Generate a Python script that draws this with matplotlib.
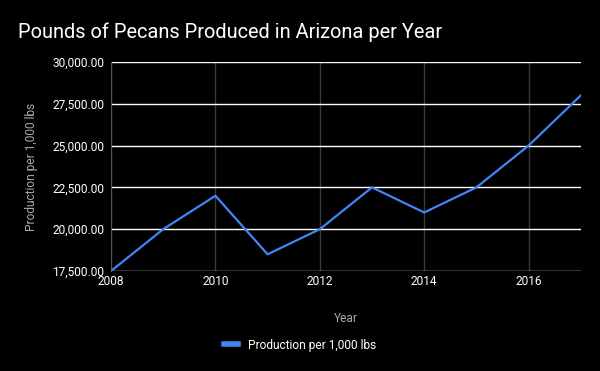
import matplotlib
matplotlib.use('Agg')
from matplotlib import pyplot as plt
from matplotlib.ticker import FuncFormatter

years = [2008, 2009, 2010, 2011, 2012, 2013, 2014, 2015, 2016, 2017]
production = [17500, 20000, 22000, 18500, 20000, 22500, 21000, 22500, 25000, 28000]
x_ticks = [2008, 2010, 2012, 2014, 2016]
y_ticks = [17500, 20000, 22500, 25000, 27500, 30000]

plt.rcParams['font.family'] = ['Roboto', 'DejaVu Sans']

fig = plt.figure(figsize=(6, 3.71), dpi=100, facecolor='black')
ax = fig.add_axes([0.185, 0.2695, 0.783, 0.5635])
ax.set_facecolor('black')

ax.plot(years, production, color='#4285F4', linewidth=1.6, label='Production per 1,000 lbs',
        solid_joinstyle='round', zorder=3)

ax.set_xlim(2008, 2017)
ax.set_ylim(17500, 30000)
ax.set_xticks(x_ticks)
ax.set_yticks(y_ticks)
ax.yaxis.set_major_formatter(FuncFormatter(lambda v, p: '{:,.2f}'.format(v)))

ax.grid(axis='y', color='white', linewidth=1)
ax.grid(axis='x', color='#3a3a3a', linewidth=1)
ax.set_axisbelow(True)
for s in ['top', 'right', 'bottom']:
    ax.spines[s].set_visible(False)
ax.spines['left'].set_color('#555555')
ax.tick_params(axis='both', length=0, colors='white', labelsize=8.6)
ax.tick_params(axis='y', pad=5)
ax.tick_params(axis='x', pad=3)

ax.set_xlabel('Year', color='#aaaaaa', fontsize=8.6, labelpad=17)
ax.set_ylabel('Production per 1,000 lbs', color='#aaaaaa', fontsize=8.6, labelpad=10)

fig.text(0.03, 0.913, 'Pounds of Pecans Produced in Arizona per Year', color='white',
         fontsize=14.4, va='center', ha='left')

leg = fig.legend(loc='center', bbox_to_anchor=(0.5, 1 - 345 / 371), frameon=False,
                 fontsize=8.6, handlelength=1.2, handletextpad=0.8)
for t in leg.get_texts():
    t.set_color('white')
for h in leg.legend_handles:
    h.set_linewidth(4)

fig.savefig('out.png', dpi=100, facecolor='black')
